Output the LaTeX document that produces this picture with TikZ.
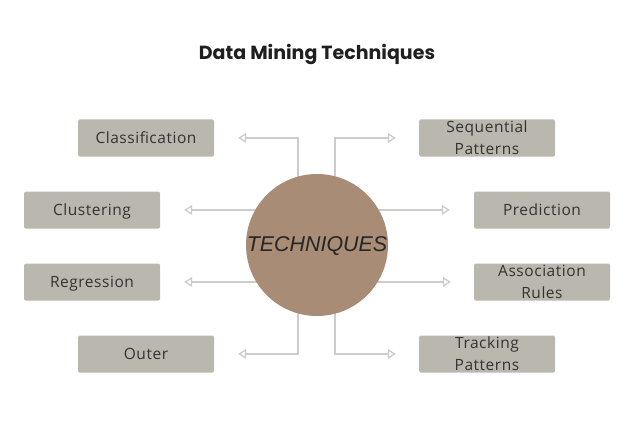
\documentclass[tikz,border=0pt]{standalone}
\usepackage{fontspec}
\setmainfont{Open Sans}[LetterSpace=3.5]
\newfontfamily\titlefont{Poppins}
\newfontfamily\circfont{Liberation Sans}
\usetikzlibrary{arrows.meta,backgrounds}
\definecolor{boxfill}{HTML}{BAB7AE}
\definecolor{circfill}{HTML}{A88C75}
\definecolor{linegray}{HTML}{CCCCCC}
\definecolor{txt}{HTML}{333333}
\begin{document}
\begin{tikzpicture}[x=1pt,y=-1pt,
  techbox/.style={fill=boxfill,rounded corners=1.5pt,minimum width=136pt,minimum height=37pt,inner sep=0pt},
  techtext/.style={text=txt,font=\fontsize{15.5}{22}\selectfont,align=center,inner sep=0pt,anchor=base},
  conn/.style={draw=linegray,line width=1.3pt,-{Triangle[open,length=8pt,width=10pt]}}]
\useasboundingbox (0,0) rectangle (634,433);
\node[font=\titlefont\bfseries\fontsize{19}{22}\selectfont,text=black!88] (title) at (317,55) {Data Mining Techniques};
\node[circle,fill=circfill,minimum size=142pt,inner sep=0pt] (c) at (317,245) {};
\node[font=\circfont\itshape\fontsize{21.4}{24}\selectfont,text=black!85] (ct) at (317,246) {TECHNIQUES};
% left boxes
\node[techbox] (cls) at (146,138) {};
\node[techtext] (clst) at ([yshift=-5.5pt]cls.center) {Classification};
\node[techbox] (clu) at (92,210) {};
\node[techtext] (clut) at ([yshift=-5.5pt]clu.center) {Clustering};
\node[techbox] (reg) at (92,282) {};
\node[techtext] (regt) at ([yshift=-5.5pt]reg.center) {Regression};
\node[techbox] (out) at (146,354) {};
\node[techtext] (outt) at ([yshift=-5.5pt]out.center) {Outer};
% right boxes
\node[techbox] (seq) at (487,138) {};
\node[techtext] (seqt) at ([yshift=-16.5pt]seq.center) {Sequential\\Patterns};
\node[techbox] (pre) at (542,210) {};
\node[techtext] (pret) at ([yshift=-5.5pt]pre.center) {Prediction};
\node[techbox] (ass) at (542,282) {};
\node[techtext] (asst) at ([yshift=-16.5pt]ass.center) {Association\\Rules};
\node[techbox] (trk) at (487,354) {};
\node[techtext] (trkt) at ([yshift=-16.5pt]trk.center) {Tracking\\Patterns};
\begin{scope}[on background layer]
\draw[conn] ([xshift=-19pt]c.center) |- ([xshift=24pt]cls.east);
\draw[conn] (c.center |- clu) -- ([xshift=24pt]clu.east);
\draw[conn] (c.center |- reg) -- ([xshift=24pt]reg.east);
\draw[conn] ([xshift=-19pt]c.center) |- ([xshift=24pt]out.east);
\draw[conn] ([xshift=18pt]c.center) |- ([xshift=-23pt]seq.west);
\draw[conn] (c.center |- pre) -- ([xshift=-24pt]pre.west);
\draw[conn] (c.center |- ass) -- ([xshift=-23pt]ass.west);
\draw[conn] ([xshift=18pt]c.center) |- ([xshift=-23pt]trk.west);
\end{scope}
\end{tikzpicture}
\end{document}
